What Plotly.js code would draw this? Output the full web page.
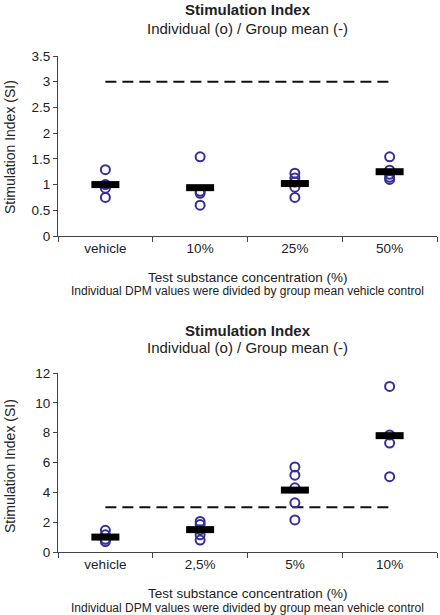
<!DOCTYPE html>
<html>
<head>
<meta charset="utf-8">
<script src="https://cdn.plot.ly/plotly-3.0.1.min.js"></script>
<style>
  html, body { margin: 0; padding: 0; background: #fff; }
  #chart { width: 440px; height: 615px; }
</style>
</head>
<body>
<div id="chart"></div>
<script>
  // upper panel
  const topCategories = ['vehicle', '10%', '25%', '50%'];
  const topIndividual = [
    [1.29, 1.0, 0.93, 0.75],
    [1.54, 0.87, 0.83, 0.6],
    [1.22, 1.13, 1.05, 0.95, 0.75],
    [1.54, 1.28, 1.2, 1.14, 1.1]
  ];
  const topMeans = [1.0, 0.94, 1.02, 1.25];

  // lower panel
  const bottomCategories = ['vehicle', '2,5%', '5%', '10%'];
  const bottomIndividual = [
    [1.45, 1.15, 0.85, 0.7],
    [2.05, 1.85, 1.5, 1.15, 0.8],
    [5.7, 5.15, 4.3, 3.3, 2.15],
    [11.1, 7.85, 7.3, 5.05]
  ];
  const bottomMeans = [1.0, 1.5, 4.15, 7.8];

  const siThreshold = 3;

  const titleText = 'Stimulation Index';
  const subtitleText = 'Individual (o) / Group mean (-)';
  const xTitleText = 'Test substance concentration (%)';
  const noteText = 'Individual DPM values were divided by group mean vehicle control';
  const yTitleText = 'Stimulation Index (SI)';

  const circleColor = '#352f98';
  const font = 'Liberation Sans, Arial, sans-serif';

  function panelTraces(cats, indiv, means, xa, ya) {
    let xs = [];
    let ys = [];
    for (let i = 0; i < cats.length; i++) {
      for (let j = 0; j < indiv[i].length; j++) {
        xs.push(cats[i]);
        ys.push(indiv[i][j]);
      }
    }
    let threshold = {
      x: cats, y: cats.map(() => siThreshold),
      xaxis: xa, yaxis: ya,
      mode: 'lines', type: 'scatter', hoverinfo: 'skip',
      line: { color: '#111', width: 2, dash: '11px,6px' }
    };
    let dots = {
      x: xs, y: ys, xaxis: xa, yaxis: ya,
      mode: 'markers', type: 'scatter',
      marker: { symbol: 'circle-open', size: 9, color: circleColor, line: { color: circleColor, width: 2 } }
    };
    let bars = {
      x: cats, y: means, xaxis: xa, yaxis: ya,
      mode: 'markers', type: 'scatter',
      marker: { symbol: 'line-ew', size: 20, line: { color: '#000', width: 7 } }
    };
    return [threshold, dots, bars];
  }

  const data = panelTraces(topCategories, topIndividual, topMeans, 'x', 'y')
    .concat(panelTraces(bottomCategories, bottomIndividual, bottomMeans, 'x2', 'y2'));

  // plot area runs from y=56px to y=552px on the page
  function py(px) { return (552 - px) / 496; }
  function px(x) { return (x - 58) / 379; }

  const xAxisBase = {
    type: 'category', range: [-0.5, 3.5],
    showline: true, linecolor: '#444', linewidth: 1,
    ticks: 'outside', tickson: 'boundaries', ticklen: 5, tickcolor: '#444',
    showgrid: false, zeroline: false,
    tickfont: { family: font, size: 13.5, color: '#222' }
  };
  const yAxisBase = {
    showline: true, linecolor: '#444', linewidth: 1,
    ticks: 'outside', ticklen: 4, tickcolor: '#444',
    showgrid: false, zeroline: false,
    tickfont: { family: font, size: 13.5, color: '#222' }
  };

  function ann(text, x, y, size, extra) {
    return Object.assign({
      text: text, xref: 'paper', yref: 'paper', x: x, y: y,
      xanchor: 'center', yanchor: 'middle', showarrow: false,
      font: { family: font, size: size, color: '#222' }
    }, extra || {});
  }

  const annotations = [
    ann('<b>' + titleText + '</b>', 0.5, py(10), 15),
    ann(subtitleText, 0.5, py(28), 15),
    ann(xTitleText, 0.5, py(277), 13.5),
    ann(noteText, 0.5, py(291), 12),
    ann(yTitleText, px(10), py(147), 14, { textangle: -90 }),
    ann('<b>' + titleText + '</b>', 0.5, py(330), 15),
    ann(subtitleText, 0.5, py(348), 15),
    ann(xTitleText, 0.5, py(593), 13.5),
    ann(noteText, 0.5, py(608), 12),
    ann(yTitleText, px(10), py(466), 14, { textangle: -90 })
  ];

  const layout = {
    width: 440, height: 615,
    margin: { l: 58, r: 3, t: 56, b: 63 },
    paper_bgcolor: '#fff', plot_bgcolor: '#fff',
    showlegend: false,
    font: { family: font, color: '#222' },
    xaxis: Object.assign({}, xAxisBase, { anchor: 'y', domain: [0, 1] }),
    yaxis: Object.assign({}, yAxisBase, { domain: [py(236), 1], range: [0, 3.5], dtick: 0.5, tickformat: '~g' }),
    xaxis2: Object.assign({}, xAxisBase, { anchor: 'y2', domain: [0, 1] }),
    yaxis2: Object.assign({}, yAxisBase, { anchor: 'x2', domain: [0, py(373)], range: [0, 12], dtick: 2 }),
    annotations: annotations
  };

  Plotly.newPlot('chart', data, layout, { staticPlot: true });
</script>
</body>
</html>
